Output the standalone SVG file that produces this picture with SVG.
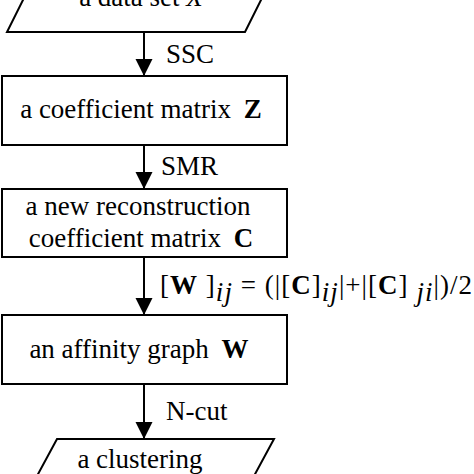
<svg xmlns="http://www.w3.org/2000/svg" width="474" height="474" viewBox="0 0 474 474">
<defs>
<style>
.shape{fill:#fff;stroke:#000;stroke-width:2}
.t{font-family:"Liberation Serif","Times New Roman",serif;font-size:27px;fill:#000}
.c{text-anchor:middle}
.b{font-weight:bold}
.i{font-style:italic}
.con{stroke:#000;stroke-width:2;fill:none}
</style>
<marker id="ah" markerUnits="userSpaceOnUse" markerWidth="18" markerHeight="18" refX="17" refY="9" orient="auto" viewBox="0 0 18 18">
<path d="M0,0.5 L17,9 L0,17.5 Z" fill="#000"/>
</marker>
</defs>
<rect width="474" height="474" fill="#fff"/>
<g id="connectors">
<line class="con" x1="144" y1="33" x2="144" y2="76" marker-end="url(#ah)"/>
<line class="con" x1="144" y1="145" x2="144" y2="189" marker-end="url(#ah)"/>
<line class="con" x1="144" y1="257" x2="144" y2="315" marker-end="url(#ah)"/>
<line class="con" x1="144" y1="384" x2="144" y2="439" marker-end="url(#ah)"/>
<text class="t" x="166" y="63">SSC</text>
<text class="t" x="161" y="175">SMR</text>
<text class="t" x="160" y="294" textLength="312" lengthAdjust="spacing">[<tspan class="b">W</tspan> ]<tspan class="i" dy="7">ij</tspan><tspan dy="-7"> = (|[</tspan><tspan class="b">C</tspan>]<tspan class="i" dy="7">ij</tspan><tspan dy="-7">|+|[</tspan><tspan class="b">C</tspan>] <tspan class="i" dy="7">ji</tspan><tspan dy="-7">|)/2</tspan></text>
<text class="t" x="166" y="420">N-cut</text>
</g>
<g id="n1">
<polygon class="shape" points="7,32 245,32 262,-2 24,-2"/>
<text class="t c" x="141" y="6">a data set <tspan class="i">X</tspan></text>
</g>
<g id="n2">
<rect class="shape" x="2" y="76" width="285" height="69"/>
<text class="t c" x="141" y="118">a coefficient matrix <tspan class="b" dx="6">Z</tspan></text>
</g>
<g id="n3">
<rect class="shape" x="2" y="189" width="285" height="68"/>
<text class="t c" x="138" y="215">a new reconstruction</text>
<text class="t c" x="141" y="247">coefficient matrix <tspan class="b" dx="6">C</tspan></text>
</g>
<g id="n4">
<rect class="shape" x="2" y="315" width="285" height="69"/>
<text class="t c" x="139" y="358">an affinity graph <tspan class="b" dx="6">W</tspan></text>
</g>
<g id="n5">
<polygon class="shape" points="57,439 274,439 254,476 37,476"/>
<text class="t c" x="140" y="468">a clustering</text>
</g>
</svg>
